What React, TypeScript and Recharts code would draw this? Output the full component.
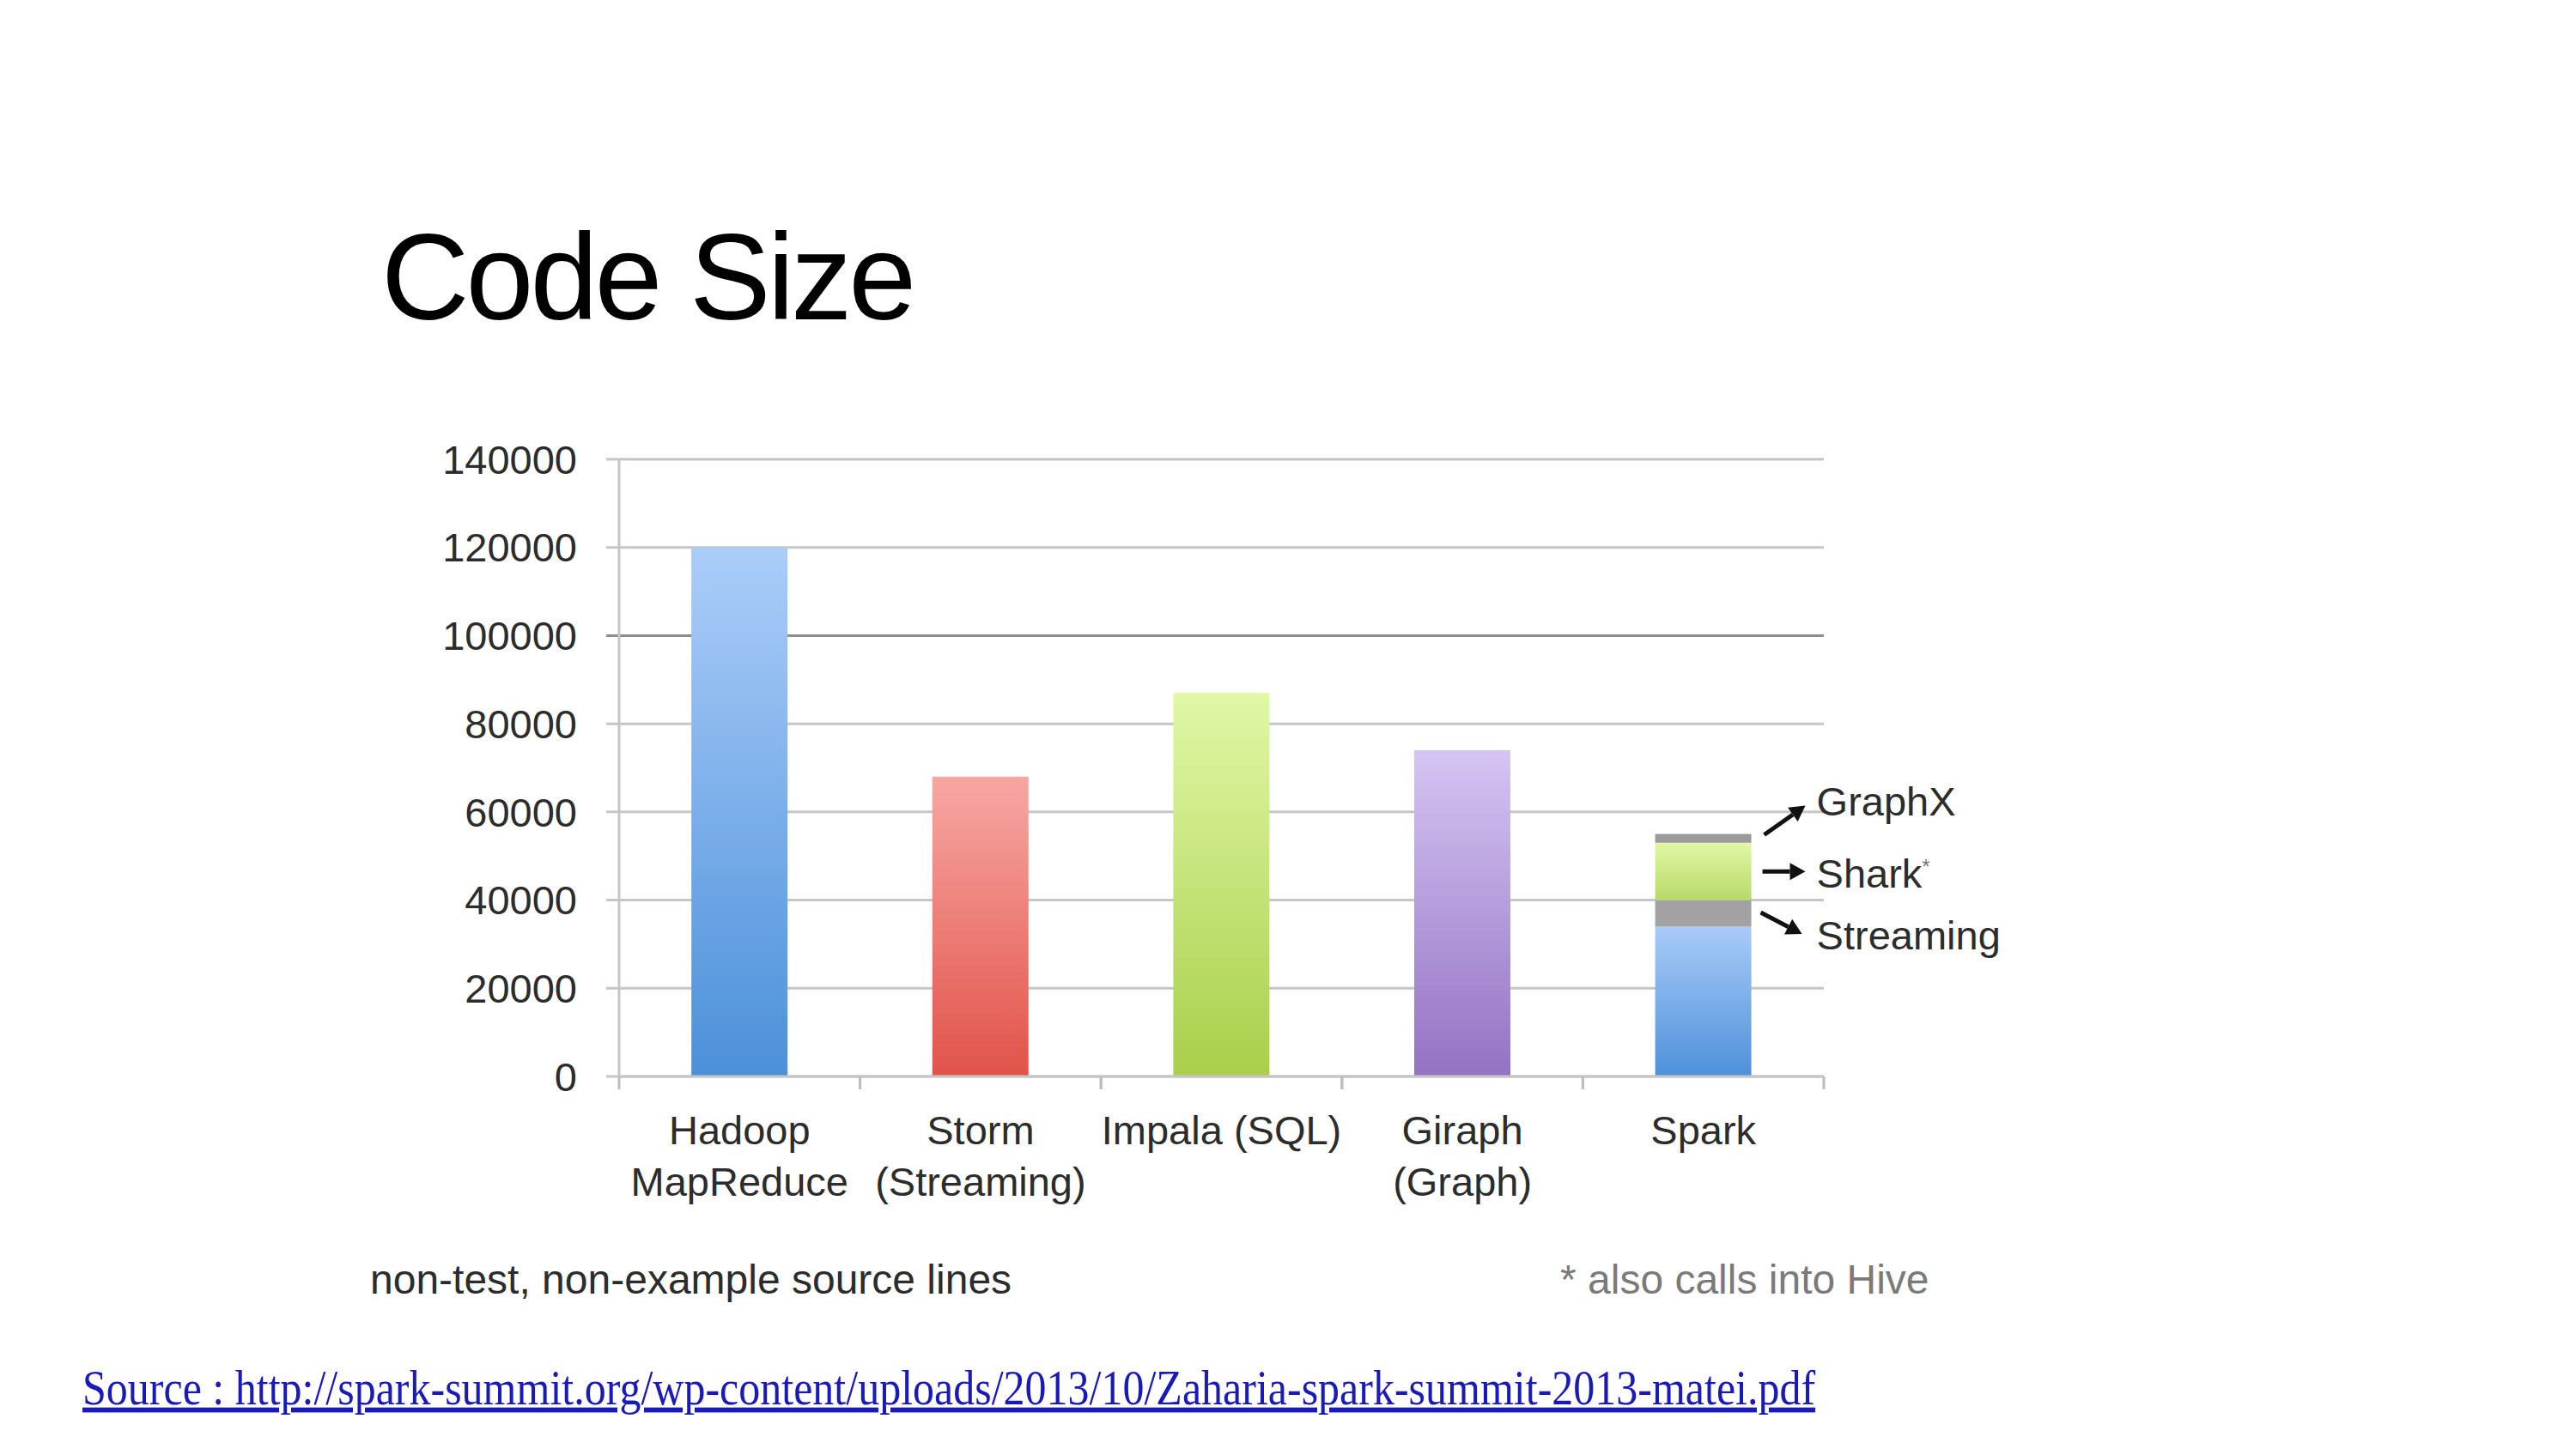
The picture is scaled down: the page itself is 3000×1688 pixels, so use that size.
import React from "react";
import { BarChart, Bar, XAxis, YAxis, CartesianGrid, Cell, LabelList } from "recharts";

const categories = ["Hadoop", "Storm", "Impala", "Giraph", "Spark"];
const categoryLabels = [["Hadoop", "MapReduce"], ["Storm", "(Streaming)"], ["Impala (SQL)"], ["Giraph", "(Graph)"], ["Spark"]];
const coreLines = [120000, 68000, 87000, 74000, 34000];
const streamingLines = [0, 0, 0, 0, 6000];
const sharkLines = [0, 0, 0, 0, 13000];
const graphxLines = [0, 0, 0, 0, 2000];
const yTicks = [0, 20000, 40000, 60000, 80000, 100000, 120000, 140000];

// top / bottom colours of each bar gradient
const barColors = [
  ["#abcdf9", "#4b90da"],
  ["#f8a7a3", "#e1534a"],
  ["#e0f8a6", "#a9cf4b"],
  ["#d5c4f3", "#9472c3"],
  ["#a9cbf8", "#4d91da"],
];

const data = categories.map((name, i) => ({
  name,
  core: coreLines[i],
  streaming: streamingLines[i],
  shark: sharkLines[i],
  graphx: graphxLines[i],
}));

const FONT = "'Liberation Sans', Arial, sans-serif";
const TEXT = "#2c2c2c";

function Arrow({ x1, y1, x2, y2 }: { x1: number; y1: number; x2: number; y2: number }) {
  const a = Math.atan2(y2 - y1, x2 - x1);
  const len = 18;
  const w = 10;
  const bx = x2 - len * Math.cos(a);
  const by = y2 - len * Math.sin(a);
  const px = -Math.sin(a) * w;
  const py = Math.cos(a) * w;
  return (
    <g>
      <line x1={x1} y1={y1} x2={bx} y2={by} stroke="#111" strokeWidth={5} />
      <polygon points={`${x2},${y2} ${bx + px},${by + py} ${bx - px},${by - py}`} fill="#111" />
    </g>
  );
}

function note(kind: string) {
  return (props: any) => {
    const { x, y, width, height, value } = props;
    if (!value) return null;
    const r = Number(x) + Number(width);
    const top = Number(y);
    const mid = Number(y) + Number(height) / 2;
    if (kind === "graphx") {
      return (
        <g>
          <Arrow x1={r + 15} y1={top + 1} x2={r + 63} y2={top - 33} />
          <text x={r + 76} y={top - 22} fontSize={47} fontFamily={FONT} fill={TEXT}>GraphX</text>
        </g>
      );
    }
    if (kind === "shark") {
      return (
        <g>
          <Arrow x1={r + 13} y1={mid} x2={r + 63} y2={mid} />
          <text x={r + 76} y={mid + 19} fontSize={47} fontFamily={FONT} fill={TEXT}>
            Shark<tspan dy={-16} fontSize={24} fill="#777">*</tspan>
          </text>
        </g>
      );
    }
    return (
      <g>
        <Arrow x1={r + 11} y1={mid - 1} x2={r + 59} y2={mid + 24} />
        <text x={r + 76} y={mid + 42} fontSize={47} fontFamily={FONT} fill={TEXT}>Streaming</text>
      </g>
    );
  };
}

function XTick(props: any) {
  const { x, y, payload } = props;
  const half = payload?.offset ?? 0;
  const idx = categories.indexOf(payload.value);
  const lines = categoryLabels[idx] || [String(payload.value)];
  return (
    <g>
      <line x1={x - half} y1={y} x2={x - half} y2={y + 15} stroke="#bdbdbd" strokeWidth={3} />
      <line x1={x + half} y1={y} x2={x + half} y2={y + 15} stroke="#bdbdbd" strokeWidth={3} />
      {lines.map((t, i) => (
        <text key={i} x={x} y={y + 79 + i * 60} textAnchor="middle" fontSize={47} fontFamily={FONT} fill={TEXT}>
          {t}
        </text>
      ))}
    </g>
  );
}

function GridLine(props: any) {
  const { x1, y1, x2, y2, index } = props;
  const dark = index === 5;
  return <line x1={x1 - 15} y1={y1} x2={x2} y2={y2} stroke={dark ? "#8d8d8d" : "#c6c6c6"} strokeWidth={3} />;
}

export default function App() {
  return (
    <div style={{ position: "absolute", left: 0, top: 0, width: 3000, height: 1688, background: "#fff", overflow: "hidden" }}>
      <div
        style={{
          position: "absolute",
          left: 444,
          top: 243,
          fontFamily: FONT,
          fontSize: 142,
          letterSpacing: -4,
          color: "#000",
          lineHeight: "160px",
          whiteSpace: "nowrap",
        }}
      >
        Code Size
      </div>

      <div style={{ position: "absolute", left: 0, top: 0 }}>
        <BarChart
          width={3000}
          height={1688}
          data={data}
          margin={{ top: 535, right: 876, bottom: 234, left: 0 }}
          barCategoryGap="30%"
        >
          <defs>
            {barColors.map((c, i) => (
              <linearGradient key={i} id={`g${i}`} x1="0" y1="0" x2="0" y2="1">
                <stop offset="0%" stopColor={c[0]} />
                <stop offset="100%" stopColor={c[1]} />
              </linearGradient>
            ))}
            <linearGradient id="gShark" x1="0" y1="0" x2="0" y2="1">
              <stop offset="0%" stopColor="#e2f8a6" />
              <stop offset="100%" stopColor="#b6d968" />
            </linearGradient>
          </defs>
          <CartesianGrid vertical={false} horizontal={(p: any) => <GridLine {...p} />} />
          <XAxis
            dataKey="name"
            interval={0}
            height={200}
            tickSize={0}
            tickMargin={0}
            tickLine={false}
            axisLine={{ stroke: "#c6c6c6", strokeWidth: 3 }}
            tick={(p: any) => <XTick {...p} />}
          />
          <YAxis
            width={721}
            domain={[0, 140000]}
            ticks={yTicks}
            tickSize={15}
            tickMargin={34}
            tickLine={false}
            axisLine={{ stroke: "#c6c6c6", strokeWidth: 3 }}
            tick={{ fontSize: 47, fontFamily: FONT, fill: TEXT }}
          />
          <Bar dataKey="core" stackId="a" isAnimationActive={false}>
            {data.map((_, i) => (
              <Cell key={i} fill={`url(#g${i})`} />
            ))}
          </Bar>
          <Bar dataKey="streaming" stackId="a" fill="#a2a2a2" isAnimationActive={false}>
            <LabelList dataKey="streaming" content={note("streaming")} />
          </Bar>
          <Bar dataKey="shark" stackId="a" fill="url(#gShark)" isAnimationActive={false}>
            <LabelList dataKey="shark" content={note("shark")} />
          </Bar>
          <Bar dataKey="graphx" stackId="a" fill="#9b9b9b" isAnimationActive={false}>
            <LabelList dataKey="graphx" content={note("graphx")} />
          </Bar>
        </BarChart>
      </div>

      <div style={{ position: "absolute", left: 431, top: 1463, fontFamily: FONT, fontSize: 48, color: TEXT, whiteSpace: "nowrap" }}>
        non-test, non-example source lines
      </div>
      <div style={{ position: "absolute", left: 1817, top: 1463, fontFamily: FONT, fontSize: 48, color: "#7a7a7a", whiteSpace: "nowrap" }}>
        * also calls into Hive
      </div>
      <div
        style={{
          position: "absolute",
          left: 96,
          top: 1592,
          fontFamily: "'Liberation Serif', 'Times New Roman', serif",
          fontSize: 50,
          color: "#1a1ab8",
          textDecoration: "underline",
          whiteSpace: "nowrap",
          transform: "scaleY(1.15)",
          transformOrigin: "left bottom",
        }}
      >
        Source : http://spark-summit.org/wp-content/uploads/2013/10/Zaharia-spark-summit-2013-matei.pdf
      </div>
    </div>
  );
}
